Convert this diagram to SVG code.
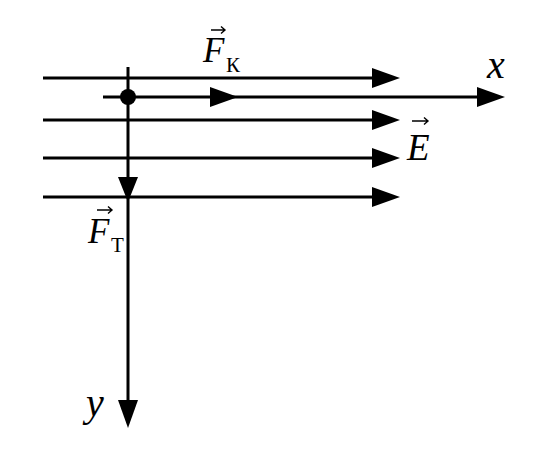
<svg xmlns="http://www.w3.org/2000/svg" width="540" height="467" viewBox="0 0 540 467">
<defs>
<style>
.ln{stroke:#000;stroke-width:3;fill:none}
.ah{fill:#000}
.it{font-family:"Liberation Serif",serif;font-style:italic;fill:#000}
.sub{font-family:"Liberation Serif",serif;fill:#000}
.acc{stroke:#000;stroke-width:1.4;fill:none}
</style>
</defs>
<rect width="540" height="467" fill="#fff"/>
<g id="connectors">
<line class="ln" x1="43" y1="78" x2="380" y2="78"/>
<polygon class="ah" points="372,68 400,78 372,88"/>
<line class="ln" x1="103" y1="97" x2="485" y2="97"/>
<polygon class="ah" points="210,87 238,97 210,107"/>
<polygon class="ah" points="477,87 505,97 477,107"/>
<line class="ln" x1="43" y1="120" x2="380" y2="120"/>
<polygon class="ah" points="372,110 400,120 372,130"/>
<line class="ln" x1="43" y1="158" x2="380" y2="158"/>
<polygon class="ah" points="372,148 400,158 372,168"/>
<line class="ln" x1="43" y1="197" x2="380" y2="197"/>
<polygon class="ah" points="372,187 400,197 372,207"/>
<line class="ln" x1="128" y1="67" x2="128" y2="410"/>
<polygon class="ah" points="118,177 138,177 128,202"/>
<polygon class="ah" points="118,400 138,400 128,428"/>
</g>
<g id="charge"><circle cx="128" cy="97" r="8" fill="#000"/></g>
<g id="label-Fk">
<text class="it" x="203" y="62" font-size="35">F</text>
<text class="sub" x="226" y="72" font-size="21">К</text>
<path class="acc" d="M211,30 H225 M221,26.5 L225,30 L221,33.5"/>
</g>
<g id="label-x"><text class="it" x="487" y="78" font-size="40">x</text></g>
<g id="label-E">
<text class="it" x="407" y="160" font-size="37">E</text>
<path class="acc" d="M412,121 H428 M424,117.5 L428,121 L424,124.5"/>
</g>
<g id="label-Ft">
<text class="it" x="88" y="243" font-size="35">F</text>
<text class="sub" x="111" y="252" font-size="21">Т</text>
<path class="acc" d="M97,210 H112 M108,206.5 L112,210 L108,213.5"/>
</g>
<g id="label-y"><text class="it" x="86" y="416" font-size="40">y</text></g>
</svg>
